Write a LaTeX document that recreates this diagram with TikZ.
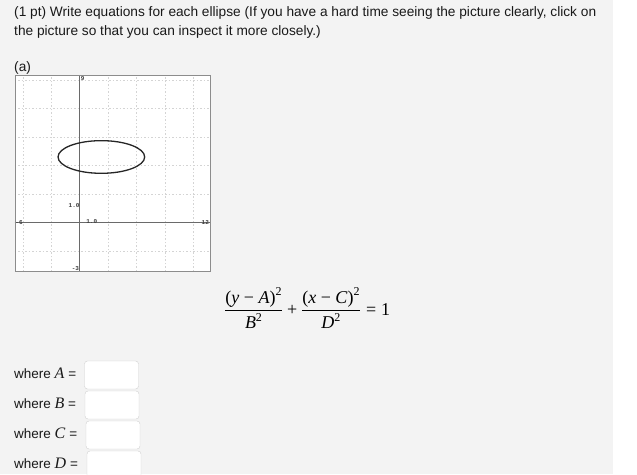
\documentclass[tikz,border=0pt]{standalone}
\usepackage{fontspec}
\usepackage{amsmath}
\setmainfont{Liberation Sans}
\newfontfamily\tms{Liberation Serif}
\newfontfamily\monof{Liberation Mono}
\definecolor{pagebg}{HTML}{F3F3F3}
\definecolor{gridc}{HTML}{D4D4D4}
\definecolor{axisc}{HTML}{6A6A6A}
\definecolor{boxc}{HTML}{D0D0D0}
\tikzset{
  bodytext/.style={anchor=base west, inner sep=0pt, font=\fontsize{13.7}{15}\selectfont, text=black!90},
  wheretext/.style={anchor=base west, inner sep=0pt, font=\fontsize{13.5}{15}\selectfont, text=black!90},
  ansbox/.style={draw=boxc, fill=white, rounded corners=3pt, minimum width=54pt, minimum height=28pt, inner sep=0pt},
  ticklbl/.style={inner sep=0pt, font=\monof\bfseries\fontsize{6}{6}\selectfont, text=black!75},
}
\newcommand{\sq}{^{\mbox{\tms\fontsize{12}{12}\selectfont 2}}}
\begin{document}
\begin{tikzpicture}[x=1pt,y=-1pt]
\useasboundingbox (0,0) rectangle (637,474);
\fill[pagebg] (0,0) rectangle (613,474);
\node[bodytext] (t1) at (14,16) {(1 pt) Write equations for each ellipse (If you have a hard time seeing the picture clearly, click on};
\node[bodytext] (t2) at (14,35) {the picture so that you can inspect it more closely.)};
\node[bodytext] (ta) at (14,71) {(a)};
% graph
\fill[white] (15,75) rectangle (210,271);
\begin{scope}[shift={(79.7,222.3)}, x=10.83pt, y=16.33pt]
  \draw[gridc, dashed, dash pattern=on 1.5pt off 2pt, line width=0.5pt] (-6,-3) grid (12,9);
  \draw[axisc, line width=0.8pt] (-6,0) -- (12,0);
  \draw[axisc, line width=0.8pt] (0,-3) -- (0,9);
  \draw[black!85, line width=1.3pt] (2,4) ellipse [x radius=4, y radius=1];
  \node[ticklbl, anchor=north west] (l9) at (0.1,8.95) {9};
  \node[ticklbl, anchor=west] (lm6) at (-5.95,0) {-6};
  \node[ticklbl, anchor=east] (l12) at (11.95,0) {12};
  \node[ticklbl, anchor=south east] (lm3) at (-0.05,-2.95) {-3};
  \node[ticklbl, anchor=east] (ly1) at (0,1) {1.0};
  \node[ticklbl, anchor=west] (lx1) at (0.6,0.02) {1.0};
\end{scope}
\draw[black!45, line width=0.8pt] (15,75) rectangle (210,271);
% formula
\node[inner sep=0pt, anchor=west, font=\tms\fontsize{18}{20}\selectfont] (eq) at (224,308)
  {$\dfrac{\mbox{\tms(\textit{y} − \textit{A})}\sq}{\mbox{\tms\textit{B}}\sq}
   \mathbin{\mbox{\tms +}}
   \dfrac{\mbox{\tms(\textit{x} − \textit{C})}\sq}{\mbox{\tms\textit{D}}\sq}
   \mathrel{\mbox{\tms =}} \mbox{\tms 1}$};
% answers
\node[wheretext] (wa) at (14,378) {where \textit{\tms\fontsize{16}{16}\selectfont A} =};
\node[wheretext] (wb) at (14,408) {where \textit{\tms\fontsize{16}{16}\selectfont B} =};
\node[wheretext] (wc) at (14,438) {where \textit{\tms\fontsize{16}{16}\selectfont C} =};
\node[wheretext] (wd) at (14,468) {where \textit{\tms\fontsize{16}{16}\selectfont D} =};
\node[ansbox] (ba) at (111.5,375) {};
\node[ansbox] (bb) at (112,405) {};
\node[ansbox] (bc) at (113,435) {};
\node[ansbox] (bd) at (114,465) {};
\end{tikzpicture}
\end{document}
